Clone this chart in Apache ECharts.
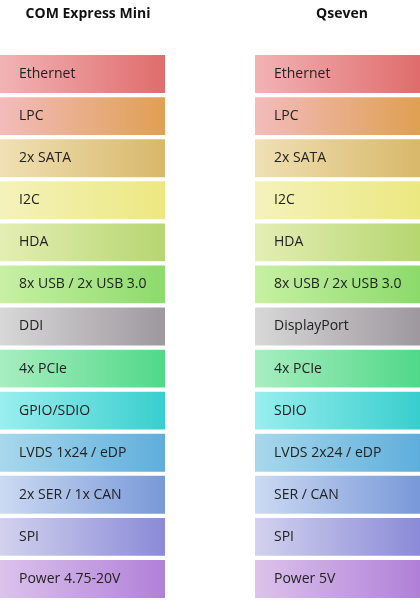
<!DOCTYPE html>
<html>
<head>
<meta charset="utf-8">
<script src="https://cdn.jsdelivr.net/npm/echarts@6/dist/echarts.min.js"></script>
<style>html,body{margin:0;padding:0;background:#fff}#chart{width:420px;height:600px}</style>
</head>
<body>
<div id="chart"></div>
<script>
'use strict';

const leftTitle = 'COM Express Mini';
const rightTitle = 'Qseven';
const leftLabels = ['Ethernet', 'LPC', '2x SATA', 'I2C', 'HDA', '8x USB / 2x USB 3.0', 'DDI', '4x PCIe', 'GPIO/SDIO', 'LVDS 1x24 / eDP', '2x SER / 1x CAN', 'SPI', 'Power 4.75-20V'];
const rightLabels = ['Ethernet', 'LPC', '2x SATA', 'I2C', 'HDA', '8x USB / 2x USB 3.0', 'DisplayPort', '4x PCIe', 'SDIO', 'LVDS 2x24 / eDP', 'SER / CAN', 'SPI', 'Power 5V'];
const lightColors = ['#f2b3b5', '#f2bcbc', '#f0e0b4', '#f4f2bc', '#e4eeb4', '#c8f0a4', '#d8d8d8', '#a8eec0', '#9aeeee', '#a8d8ec', '#ccdaf2', '#d2d2ee', '#dcc2ec'];
const darkColors = ['#e06c6c', '#dfa052', '#d8b86a', '#ece880', '#b6d670', '#8cda6c', '#9e989e', '#50d888', '#38cece', '#5eaedc', '#7898d8', '#8a8ad8', '#b080d8'];

const chart = echarts.init(document.getElementById('chart'));

function barData(labels) {
    return labels.map((name, i) => ({
        value: 1,
        name: name,
        itemStyle: {
            color: new echarts.graphic.LinearGradient(0, 0, 1, 0, [
                { offset: 0, color: lightColors[i] },
                { offset: 1, color: darkColors[i] }
            ])
        }
    }));
}

const grids = [
    { left: 0, width: 165, top: 53, height: 547 },
    { left: 255, width: 165, top: 53, height: 547 }
];

chart.setOption({
    animation: false,
    title: [
        { text: leftTitle, left: 83, top: 2, textAlign: 'center',
          textStyle: { fontFamily: 'Open Sans', fontSize: 14, fontWeight: 'bold', color: '#111' } },
        { text: rightTitle, left: 337, top: 2, textAlign: 'center',
          textStyle: { fontFamily: 'Open Sans', fontSize: 14, fontWeight: 'bold', color: '#111' } }
    ],
    grid: grids,
    xAxis: [0, 1].map((g) => ({ type: 'value', gridIndex: g, min: 0, max: 1, show: false })),
    yAxis: [leftLabels, rightLabels].map((labels, g) => ({
        type: 'category', gridIndex: g, data: labels, inverse: true, show: false
    })),
    series: [leftLabels, rightLabels].map((labels, g) => ({
        type: 'bar',
        xAxisIndex: g,
        yAxisIndex: g,
        barCategoryGap: '10%',
        data: barData(labels),
        label: {
            show: true,
            position: 'insideLeft',
            distance: 19,
            formatter: '{b}',
            fontFamily: 'Open Sans',
            fontSize: 14,
            color: '#222'
        }
    }))
});
</script>
</body>
</html>
